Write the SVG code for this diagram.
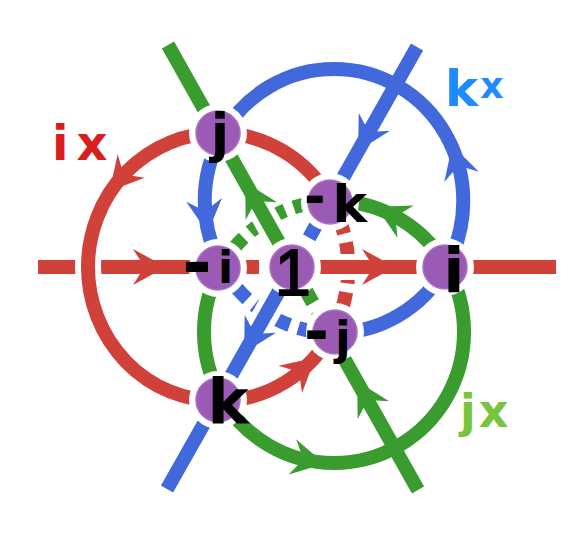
<svg xmlns="http://www.w3.org/2000/svg" xmlns:xlink="http://www.w3.org/1999/xlink" width="588" height="545" viewBox="0 0 588 545">
<style>
.ln{fill:none;stroke-width:14;stroke-linecap:butt}
.case{fill:none;stroke:#fff;stroke-width:26;stroke-linecap:butt}
.r{stroke:#d0413a}.b{stroke:#4169dc}.g{stroke:#3a9b2e}
.fr{fill:#d0413a}.fb{fill:#4169dc}.fg{fill:#3a9b2e}
.dash{stroke-dasharray:16 9}
.halo{fill:#fff}
.node{fill:#9b5ab4;stroke:#a873c2;stroke-width:1.5}
.lbl{font-family:"DejaVu Sans",sans-serif;font-weight:bold;fill:#000}
.one{font-family:"Liberation Sans",sans-serif;fill:#000;stroke:#000;stroke-width:2}
.tag{font-family:"DejaVu Sans",sans-serif;font-weight:bold}
</style>
<defs>
<path id="ah" d="M18,0 L-15,-18 L-8,-7 L-8,7 L-15,18 Z"/>
</defs>
<rect width="588" height="545" fill="#fff"/>
<g id="connectors">
  <!-- back (dashed) -->
  <path class="ln r dash" d="M333,331 A130,134 0 0 0 331,201"/>
  <path class="ln b dash" d="M222,267 A129,132 0 0 0 334,333"/>
  <path class="ln g dash" d="M334,201 A130,131 0 0 0 221.4,266.5"/>
  <path class="ln r dash" d="M218,267 H292.7"/>
  <path class="ln b dash" d="M329.3,202 L292.6,267"/>
  <path class="ln g dash" d="M292.7,267 L329.2,332"/>
  <!-- red line -->
  <path class="case" d="M38,267 H218 M292.7,267 H556"/>
  <path class="ln r" d="M38,267 H218 M292.7,267 H556"/>
  <!-- red ring front -->
  <path class="case" d="M331,201 A130,134 0 0 0 218,133 A130,134 0 0 0 218,401 A130,134 0 0 0 333,331"/>
  <path class="ln r" d="M331,201 A130,134 0 0 0 218,133 A130,134 0 0 0 218,401 A130,134 0 0 0 333,331"/>
  <!-- blue -->
  <path class="case" d="M417,47 L329.3,202 M292.6,267 L167,489"/>
  <path class="case" d="M334,333 A129,132 0 0 0 446,267 A129,132 0 0 0 334,69 A129,132 0 0 0 222,135 A129,132 0 0 0 222,267"/>
  <path class="ln b" d="M334,333 A129,132 0 0 0 446,267 A129,132 0 0 0 334,69 A129,132 0 0 0 222,135 A129,132 0 0 0 222,267"/>
  <path class="ln b" d="M417,47 L329.3,202 M292.6,267 L167,489"/>
  <!-- green -->
  <path class="case" d="M168,45 L292.7,267 M329.2,332 L418,490"/>
  <path class="case" d="M221.4,266.5 A130,131 0 0 0 221.4,397.5 A130,131 0 0 0 334,463 A130,131 0 0 0 446.6,266.5 A130,131 0 0 0 334,201"/>
  <path class="ln g" d="M221.4,266.5 A130,131 0 0 0 221.4,397.5 A130,131 0 0 0 334,463 A130,131 0 0 0 446.6,266.5 A130,131 0 0 0 334,201"/>
  <path class="ln g" d="M168,45 L292.7,267 M329.2,332 L418,490"/>
  <!-- arrowheads -->
  <use xlink:href="#ah" class="fr" transform="translate(148,267)"/>
  <use xlink:href="#ah" class="fr" transform="translate(377,267)"/>
  <use xlink:href="#ah" class="fr" transform="translate(121.4,177.3) rotate(131)"/>
  <use xlink:href="#ah" class="fr" transform="translate(301.6,369.6) rotate(-41)"/>
  <use xlink:href="#ah" class="fb" transform="translate(457.3,162.4) rotate(-106.6)"/>
  <use xlink:href="#ah" class="fb" transform="translate(205.7,214.8) rotate(84)"/>
  <use xlink:href="#ah" class="fb" transform="translate(367,135) rotate(119.5)"/>
  <use xlink:href="#ah" class="fb" transform="translate(253,337) rotate(119.5)"/>
  <use xlink:href="#ah" class="fg" transform="translate(392.2,214.9) rotate(-153.2)"/>
  <use xlink:href="#ah" class="fg" transform="translate(307,460.1) rotate(12)"/>
  <use xlink:href="#ah" class="fg" transform="translate(254,198) rotate(-119.3)"/>
  <use xlink:href="#ah" class="fg" transform="translate(366,397) rotate(-119.3)"/>
</g>
<g id="connector-labels">
  <text class="tag" x="52" y="160" font-size="48" fill="#d81e1e" letter-spacing="8">ix</text>
  <text class="tag" x="445" y="106" font-size="50" fill="#1e8cff">k<tspan font-size="36" dy="-8" dx="2">x</tspan></text>
  <text class="tag" x="460" y="427" font-size="46" fill="#78c43c" letter-spacing="3">jx</text>
</g>
<g id="node-j">
  <circle class="halo" cx="218" cy="133" r="29"/>
  <circle class="node" cx="218" cy="133" r="22"/>
  <text class="lbl" x="220" y="152" font-size="54" text-anchor="middle">j</text>
</g>
<g id="node-neg-k">
  <circle class="halo" cx="330" cy="202" r="29"/>
  <circle class="node" cx="330" cy="202" r="22"/>
  <text class="lbl" x="304" y="222" font-size="52"><tspan dy="-8">-</tspan><tspan dy="8" dx="7">k</tspan></text>
</g>
<g id="node-neg-i">
  <circle class="halo" cx="218" cy="268" r="29"/>
  <circle class="node" cx="218" cy="268" r="22"/>
  <text class="lbl" x="182" y="283" font-size="44"><tspan font-size="72" dy="4">-</tspan><tspan dy="-4" dx="6">i</tspan></text>
</g>
<g id="node-1">
  <circle class="halo" cx="292" cy="267" r="29"/>
  <circle class="node" cx="292" cy="267" r="22"/>
  <text class="one" x="275" y="295" font-size="64">1</text>
</g>
<g id="node-i">
  <circle class="halo" cx="445" cy="267" r="29"/>
  <circle class="node" cx="445" cy="267" r="22"/>
  <text class="lbl" x="454" y="292" font-size="62" text-anchor="middle">i</text>
</g>
<g id="node-neg-j">
  <circle class="halo" cx="335" cy="332" r="29"/>
  <circle class="node" cx="335" cy="332" r="22"/>
  <text class="lbl" x="304" y="354" font-size="46"><tspan font-size="60" dy="-2">-</tspan><tspan dy="2" dx="6">j</tspan></text>
</g>
<g id="node-k">
  <circle class="halo" cx="218" cy="400" r="29"/>
  <circle class="node" cx="218" cy="400" r="22"/>
  <text class="lbl" x="228" y="423" font-size="62" text-anchor="middle">k</text>
</g>
</svg>
